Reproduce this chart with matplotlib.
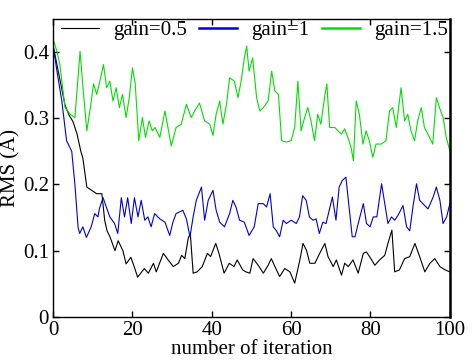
import matplotlib
matplotlib.use("Agg")
import matplotlib.pyplot as plt

# gain = 0.5 (black)
black_x = [0, 1, 2, 3, 4, 5, 6, 7, 7.5, 8.5, 10, 11, 12.3, 13, 13.6, 14.4, 15.6, 16.4,
           17.6, 18.4, 19.6, 20.5, 21.3, 23, 24, 25.3, 26, 27.8, 29, 30.3, 31.6, 32.4,
           33.2, 34.1, 34.6, 35.3, 36.3, 37.6, 38.9, 39.7, 41, 41.8, 43.1, 44.4, 45.6,
           46.4, 47.8, 48.6, 49.6, 50.4, 51.7, 53, 54.2, 55, 56.3, 57.1, 58.4, 59.7,
           60.9, 62.2, 63, 63.9, 64.7, 66, 67.2, 68.5, 69.3, 70.6, 71.4, 72.7, 73.5,
           74.4, 75.6, 76.9, 78.2, 79, 80.3, 81.1, 82.3, 83.6, 84.4, 85.4, 86.1, 87.3,
           88.6, 89.9, 91.2, 92.4, 93.7, 95, 96.2, 97.5, 98.8, 100]
black_y = [0.41, 0.38, 0.35, 0.32, 0.305, 0.295, 0.277, 0.25, 0.24, 0.196, 0.19, 0.186,
           0.186, 0.146, 0.13, 0.12, 0.10, 0.115, 0.10, 0.08, 0.09, 0.075, 0.06, 0.073,
           0.066, 0.081, 0.068, 0.096, 0.086, 0.076, 0.081, 0.093, 0.088, 0.12, 0.125,
           0.066, 0.068, 0.076, 0.096, 0.091, 0.111, 0.096, 0.066, 0.081, 0.076, 0.086,
           0.071, 0.068, 0.066, 0.088, 0.078, 0.066, 0.078, 0.088, 0.071, 0.061, 0.073,
           0.068, 0.051, 0.086, 0.111, 0.10, 0.081, 0.081, 0.096, 0.111, 0.091, 0.076,
           0.086, 0.063, 0.081, 0.076, 0.086, 0.066, 0.096, 0.098, 0.086, 0.078, 0.086,
           0.093, 0.111, 0.131, 0.068, 0.071, 0.088, 0.091, 0.111, 0.091, 0.068, 0.081,
           0.088, 0.076, 0.071, 0.068]

# gain = 1 (blue)
blue_x = [0, 1, 2.2, 3.4, 4.7, 5.5, 6.3, 6.7, 7.5, 8.4, 9.6, 10.5, 11.3, 11.7, 12.6,
          13.4, 14.3, 15.5, 16.3, 17.2, 18, 18.8, 19.7, 20.5, 21.4, 22.2, 23.1, 23.9,
          24.7, 25.6, 26.9, 28.2, 29.4, 30.2, 31, 32.7, 33.6, 34.5, 35.3, 36.1, 37.4,
          38.2, 39.1, 40.3, 41.1, 42, 43.2, 44.5, 45.3, 46.1, 47, 48.2, 49.4, 50.7,
          51.7, 53, 53.8, 54.7, 55.5, 56.3, 57.1, 58, 58.8, 60, 61.3, 62.1, 62.9, 63.8,
          64.6, 65.5, 66.3, 67.1, 68, 68.8, 69.6, 70.4, 71.3, 72.1, 72.9, 73.8, 74.6,
          75.4, 76.1, 76.9, 78.2, 79, 79.9, 80.7, 81.6, 82.8, 83.6, 84.4, 85.3, 86.1,
          86.9, 88.2, 89.1, 89.9, 90.7, 91.6, 92.4, 93.2, 94.5, 95.8, 96.6, 97.5, 98.3,
          99.2, 100]
blue_y = [0.41, 0.37, 0.326, 0.266, 0.25, 0.2, 0.135, 0.126, 0.136, 0.12, 0.136, 0.156,
          0.151, 0.164, 0.18, 0.166, 0.151, 0.141, 0.126, 0.18, 0.151, 0.18, 0.141, 0.18,
          0.151, 0.176, 0.146, 0.151, 0.136, 0.156, 0.148, 0.143, 0.123, 0.143, 0.156,
          0.161, 0.148, 0.121, 0.151, 0.176, 0.196, 0.146, 0.176, 0.191, 0.161, 0.143,
          0.136, 0.156, 0.176, 0.166, 0.146, 0.143, 0.123, 0.136, 0.171, 0.171, 0.166,
          0.186, 0.136, 0.13, 0.121, 0.146, 0.141, 0.146, 0.141, 0.151, 0.183, 0.176,
          0.151, 0.146, 0.148, 0.126, 0.143, 0.141, 0.161, 0.181, 0.146, 0.196, 0.206,
          0.211, 0.166, 0.121, 0.121, 0.141, 0.171, 0.141, 0.136, 0.151, 0.151, 0.201,
          0.171, 0.141, 0.151, 0.146, 0.153, 0.168, 0.136, 0.13, 0.166, 0.201, 0.176,
          0.171, 0.163, 0.181, 0.196, 0.176, 0.141, 0.151, 0.171]

# gain = 1.5 (green)
green_x = [0, 1, 1.7, 3, 4.3, 5.5, 6.8, 7.6, 8.5, 9.4, 10.2, 11, 11.8, 12.7, 13.5, 14.3,
           15.1, 15.9, 16.7, 17.5, 18.4, 19.2, 20, 20.7, 21.6, 22.5, 23.3, 24.2, 25,
           25.7, 26.9, 28.2, 29.4, 29.8, 31, 32.3, 33.6, 34.8, 35.7, 36.9, 38.2, 39.5,
           40.3, 41.1, 42, 42.8, 43.7, 44.5, 45.7, 46.6, 47.4, 48.2, 48.8, 49.4, 50.3,
           51.3, 52.1, 53, 54.2, 55.1, 55.9, 56.8, 57.6, 58.8, 60, 60.9, 61.7, 62.5,
           63.4, 64.2, 65, 65.9, 66.7, 67.5, 68.4, 69, 69.7, 71, 71.8, 72.7, 73.5, 74.3,
           75.1, 75.7, 76.4, 77.2, 78.1, 78.9, 79.7, 80.6, 81.4, 82.7, 83.9, 84.8, 85.6,
           86.5, 87.7, 88.6, 89.4, 90.2, 91.1, 91.9, 92.8, 93.6, 94.9, 95.7, 96.6, 97.4,
           98.3, 99.1, 100]
green_y = [0.42, 0.40, 0.381, 0.316, 0.306, 0.301, 0.401, 0.341, 0.281, 0.316, 0.352,
           0.336, 0.356, 0.381, 0.346, 0.356, 0.326, 0.346, 0.316, 0.336, 0.301, 0.331,
           0.376, 0.352, 0.266, 0.301, 0.271, 0.296, 0.281, 0.286, 0.271, 0.311, 0.271,
           0.258, 0.286, 0.291, 0.321, 0.301, 0.311, 0.323, 0.296, 0.291, 0.274, 0.306,
           0.326, 0.291, 0.321, 0.361, 0.356, 0.331, 0.356, 0.391, 0.409, 0.371, 0.391,
           0.331, 0.311, 0.316, 0.326, 0.371, 0.341, 0.336, 0.266, 0.264, 0.266, 0.286,
           0.356, 0.281, 0.301, 0.316, 0.296, 0.266, 0.306, 0.291, 0.331, 0.352, 0.286,
           0.286, 0.281, 0.276, 0.284, 0.271, 0.256, 0.236, 0.326, 0.306, 0.261, 0.281,
           0.266, 0.241, 0.261, 0.261, 0.266, 0.311, 0.316, 0.286, 0.346, 0.296, 0.306,
           0.281, 0.266, 0.296, 0.316, 0.286, 0.271, 0.261, 0.331, 0.316, 0.301, 0.271,
           0.251]

labels = ["gain=0.5", "gain=1", "gain=1.5"]
x_ticks = [0, 20, 40, 60, 80, 100]
y_ticks = [0, 0.1, 0.2, 0.3, 0.4]
y_tick_labels = ["0", "0.1", "0.2", "0.3", "0.4"]

plt.rcParams["font.family"] = ["Liberation Serif", "DejaVu Serif"]
plt.rcParams["font.size"] = 15

fig = plt.figure(figsize=(4.74, 3.63), dpi=100)
ax = fig.add_axes([0.112, 0.127, 0.837, 0.821])

ax.plot(black_x, black_y, color="black", linewidth=0.8, label=labels[0])
ax.plot(blue_x, blue_y, color="#0000dd", linewidth=0.8, label=labels[1])
ax.plot(green_x, green_y, color="#00e000", linewidth=0.8, label=labels[2])

ax.set_xlim(0, 100)
ax.set_ylim(0, 0.45)
ax.set_xticks(x_ticks)
ax.set_yticks(y_ticks)
ax.set_yticklabels(y_tick_labels)
ax.tick_params(direction="in", length=4, width=1, top=True, right=True, labelsize=15)
ax.tick_params(axis="x", pad=3)
ax.tick_params(axis="y", pad=3)

for side in ["left", "bottom", "top"]:
    ax.spines[side].set_linewidth(1.0)
ax.spines["right"].set_linewidth(1.8)

ax.set_xlabel("number of iteration", fontsize=15, labelpad=0)
ax.set_ylabel("RMS (Å)", fontsize=15, labelpad=2)

leg = ax.legend(loc="upper left", bbox_to_anchor=(0.02, 0.995), ncol=3, frameon=False,
                handlelength=1.8, handletextpad=0.7, columnspacing=0.6,
                borderpad=0, borderaxespad=0, fontsize=15)
leg_lines = leg.get_lines()
leg_lines[0].set_linewidth(0.8)
leg_lines[1].set_linewidth(1.8)
leg_lines[2].set_linewidth(1.8)

fig.savefig("out.png", dpi=100)
plt.close(fig)
